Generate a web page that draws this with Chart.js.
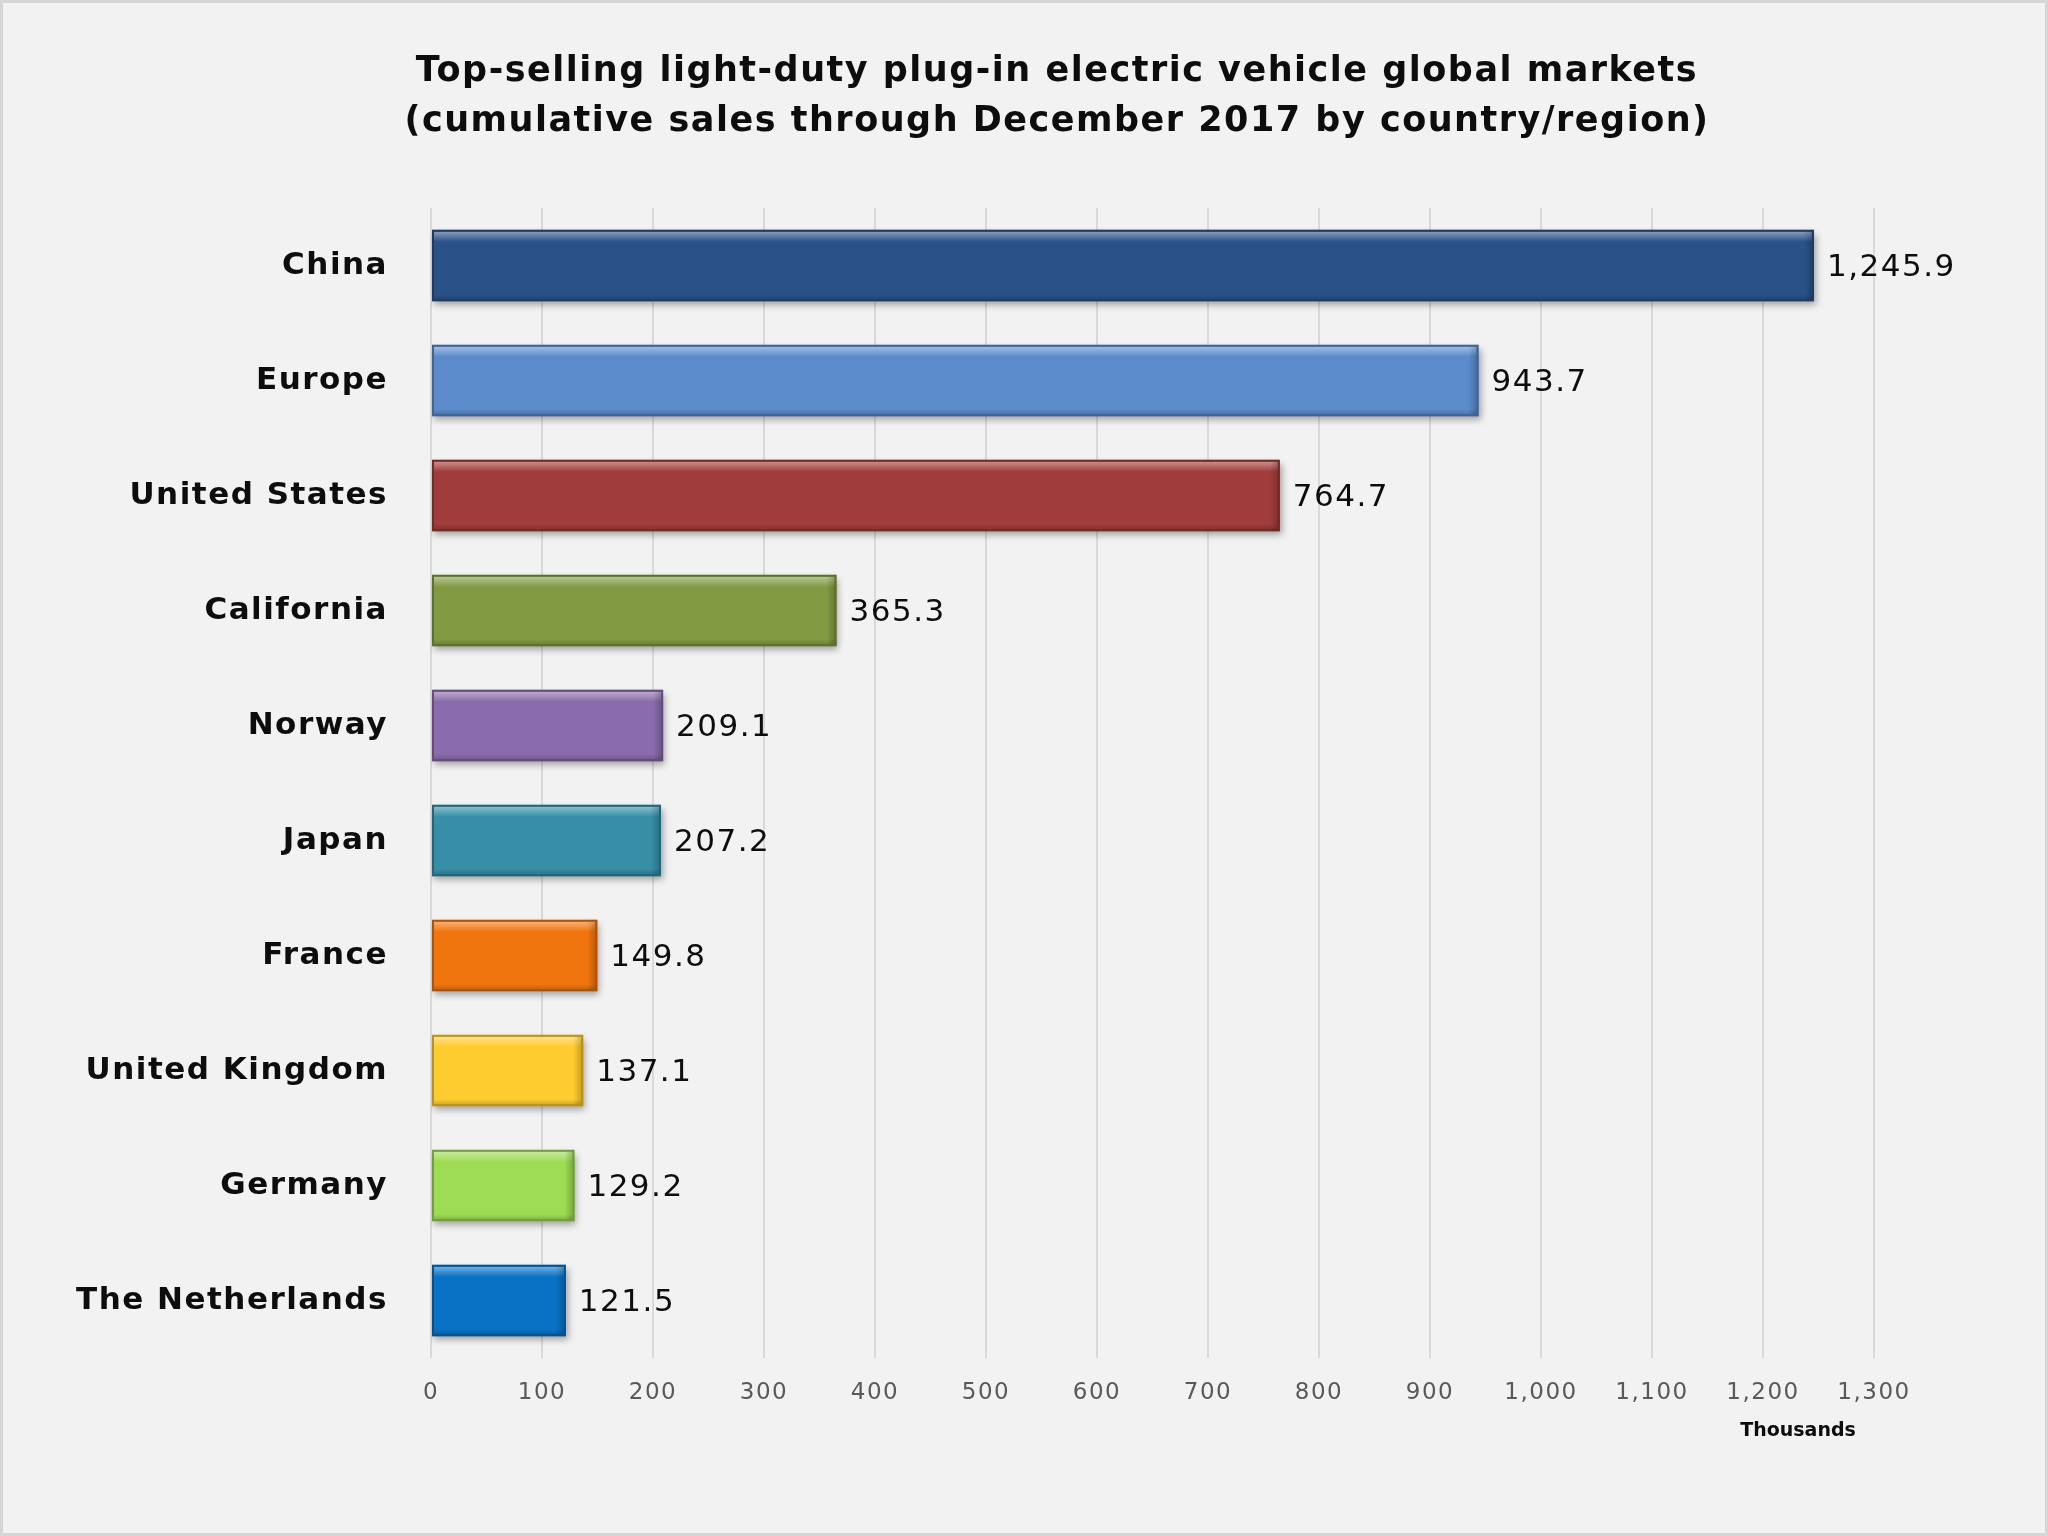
<!DOCTYPE html>
<html lang="en">
<head>
  <meta charset="UTF-8">
  <title>Top-selling light-duty plug-in electric vehicle global markets</title>
  <script src="https://cdn.jsdelivr.net/npm/chart.js"></script>
  <style>
    body {
      margin: 0;
      background: #f2f2f2;
      overflow: hidden;
    }
    canvas {
      display: block;
    }
  </style>
</head>
<body>
  <canvas id="grafico" width="2048" height="1536"></canvas>

  <script>
    // data (thousands of vehicles)
    const categories = ['China', 'Europe', 'United States', 'California', 'Norway',
                        'Japan', 'France', 'United Kingdom', 'Germany', 'The Netherlands'];
    const sales = [1245.9, 943.7, 764.7, 365.3, 209.1, 207.2, 149.8, 137.1, 129.2, 121.5];
    const barColors = ['#2b5288', '#5b8bcb', '#a03c3b', '#829b43', '#8a6bab',
                       '#368ea7', '#f0750f', '#ffcc30', '#9edc55', '#0a72c5'];
    const titleLines = ['Top-selling light-duty plug-in electric vehicle global markets',
                        '(cumulative sales through December 2017 by country/region)'];
    const axisUnit = 'Thousands';

    const FONT = '"DejaVu Sans", Verdana, sans-serif';

    function darken(hex, f) {
      const n = parseInt(hex.slice(1), 16);
      const r = Math.round(((n >> 16) & 255) * f);
      const g = Math.round(((n >> 8) & 255) * f);
      const b = Math.round((n & 255) * f);
      return `rgb(${r},${g},${b})`;
    }

    const fmt = v => v.toLocaleString('en-US', { minimumFractionDigits: 1, maximumFractionDigits: 1 });

    // background, frame, title and unit label
    const decor = {
      id: 'decor',
      beforeUpdate(chart) { chart.ctx.letterSpacing = '1.5px'; },
      beforeDraw(chart) {
        const c = chart.ctx;
        c.letterSpacing = '1.5px';
        c.save();
        c.fillStyle = '#f2f2f2';
        c.fillRect(0, 0, chart.width, chart.height);
        c.strokeStyle = '#d6d6d6';
        c.lineWidth = 3;
        c.strokeRect(1.5, 1.5, chart.width - 3, chart.height - 3);
        c.restore();
      },
      afterDraw(chart) {
        const c = chart.ctx;
        c.save();
        c.fillStyle = '#0d0d0d';
        c.textAlign = 'center';
        c.textBaseline = 'middle';
        c.font = 'bold 35px ' + FONT;
        c.fillText(titleLines[0], 1057, 72);
        c.fillText(titleLines[1], 1057, 122);
        c.font = 'bold 19px ' + FONT;
        c.letterSpacing = '0px';
        c.fillText(axisUnit, 1798, 1431);
        c.restore();
      }
    };

    // bevelled bars with drop shadow, plus value labels
    const bevel = {
      id: 'bevel',
      beforeDatasetsDraw(chart) {
        const c = chart.ctx;
        c.save();
        c.shadowColor = 'rgba(0,0,0,0.35)';
        c.shadowBlur = 7;
        c.shadowOffsetX = 2;
        c.shadowOffsetY = 4;
      },
      afterDatasetsDraw(chart) {
        const c = chart.ctx;
        c.restore();
        const meta = chart.getDatasetMeta(0);
        meta.data.forEach((bar, i) => {
          const p = bar.getProps(['x', 'y', 'base', 'height'], true);
          const x0 = p.base, x1 = p.x, y0 = p.y - p.height / 2, y1 = p.y + p.height / 2;
          c.save();
          // top highlight
          let g = c.createLinearGradient(0, y0, 0, y0 + 12);
          g.addColorStop(0, 'rgba(255,255,255,0.5)');
          g.addColorStop(1, 'rgba(255,255,255,0)');
          c.fillStyle = g;
          c.fillRect(x0, y0, x1 - x0, 12);
          // bottom shade
          g = c.createLinearGradient(0, y1 - 7, 0, y1);
          g.addColorStop(0, 'rgba(0,0,0,0)');
          g.addColorStop(1, 'rgba(0,0,0,0.22)');
          c.fillStyle = g;
          c.fillRect(x0, y1 - 7, x1 - x0, 7);
          // right edge shade
          g = c.createLinearGradient(x1 - 10, 0, x1, 0);
          g.addColorStop(0, 'rgba(0,0,0,0)');
          g.addColorStop(1, 'rgba(0,0,0,0.25)');
          c.fillStyle = g;
          c.fillRect(x1 - 10, y0, 10, y1 - y0);
          c.strokeStyle = darken(barColors[i], 0.72);
          c.lineWidth = 2;
          c.strokeRect(x0 + 1, y0 + 1, x1 - x0 - 2, y1 - y0 - 2);
          // value label
          c.fillStyle = '#0d0d0d';
          c.font = '31px ' + FONT;
          c.letterSpacing = '1.5px';
          c.textAlign = 'left';
          c.textBaseline = 'middle';
          c.fillText(fmt(sales[i]), x1 + 13, p.y + 2);
          c.restore();
        });
      }
    };

    const ctx = document.getElementById('grafico').getContext('2d');
    const chart = new Chart(ctx, {
      type: 'bar',
      data: {
        labels: categories,
        datasets: [{
          data: sales,
          backgroundColor: barColors,
          borderWidth: 0,
          categoryPercentage: 1,
          barPercentage: 0.62
        }]
      },
      options: {
        indexAxis: 'y',
        responsive: false,
        animation: false,
        devicePixelRatio: 1,
        layout: { padding: { top: 208, right: 174, left: 0, bottom: 0 } },
        plugins: {
          legend: { display: false },
          title: { display: false },
          tooltip: { enabled: false }
        },
        scales: {
          x: {
            min: 0,
            max: 1300,
            ticks: {
              stepSize: 100,
              color: '#595959',
              font: { family: FONT, size: 23 },
              padding: 21,
              maxRotation: 0,
              autoSkip: false,
              callback: v => v.toLocaleString('en-US')
            },
            grid: { color: '#d9d9d9', lineWidth: 2, drawTicks: false },
            border: { display: false },
            afterFit(scale) { scale.height = 178; }
          },
          y: {
            ticks: {
              color: '#0d0d0d',
              font: { family: FONT, size: 31, weight: 'bold' },
              padding: 43,
              autoSkip: false
            },
            grid: { display: false, drawTicks: false },
            border: { display: false },
            afterFit(scale) { scale.width = 431; }
          }
        }
      },
      plugins: [decor, bevel]
    });
  </script>
</body>
</html>
